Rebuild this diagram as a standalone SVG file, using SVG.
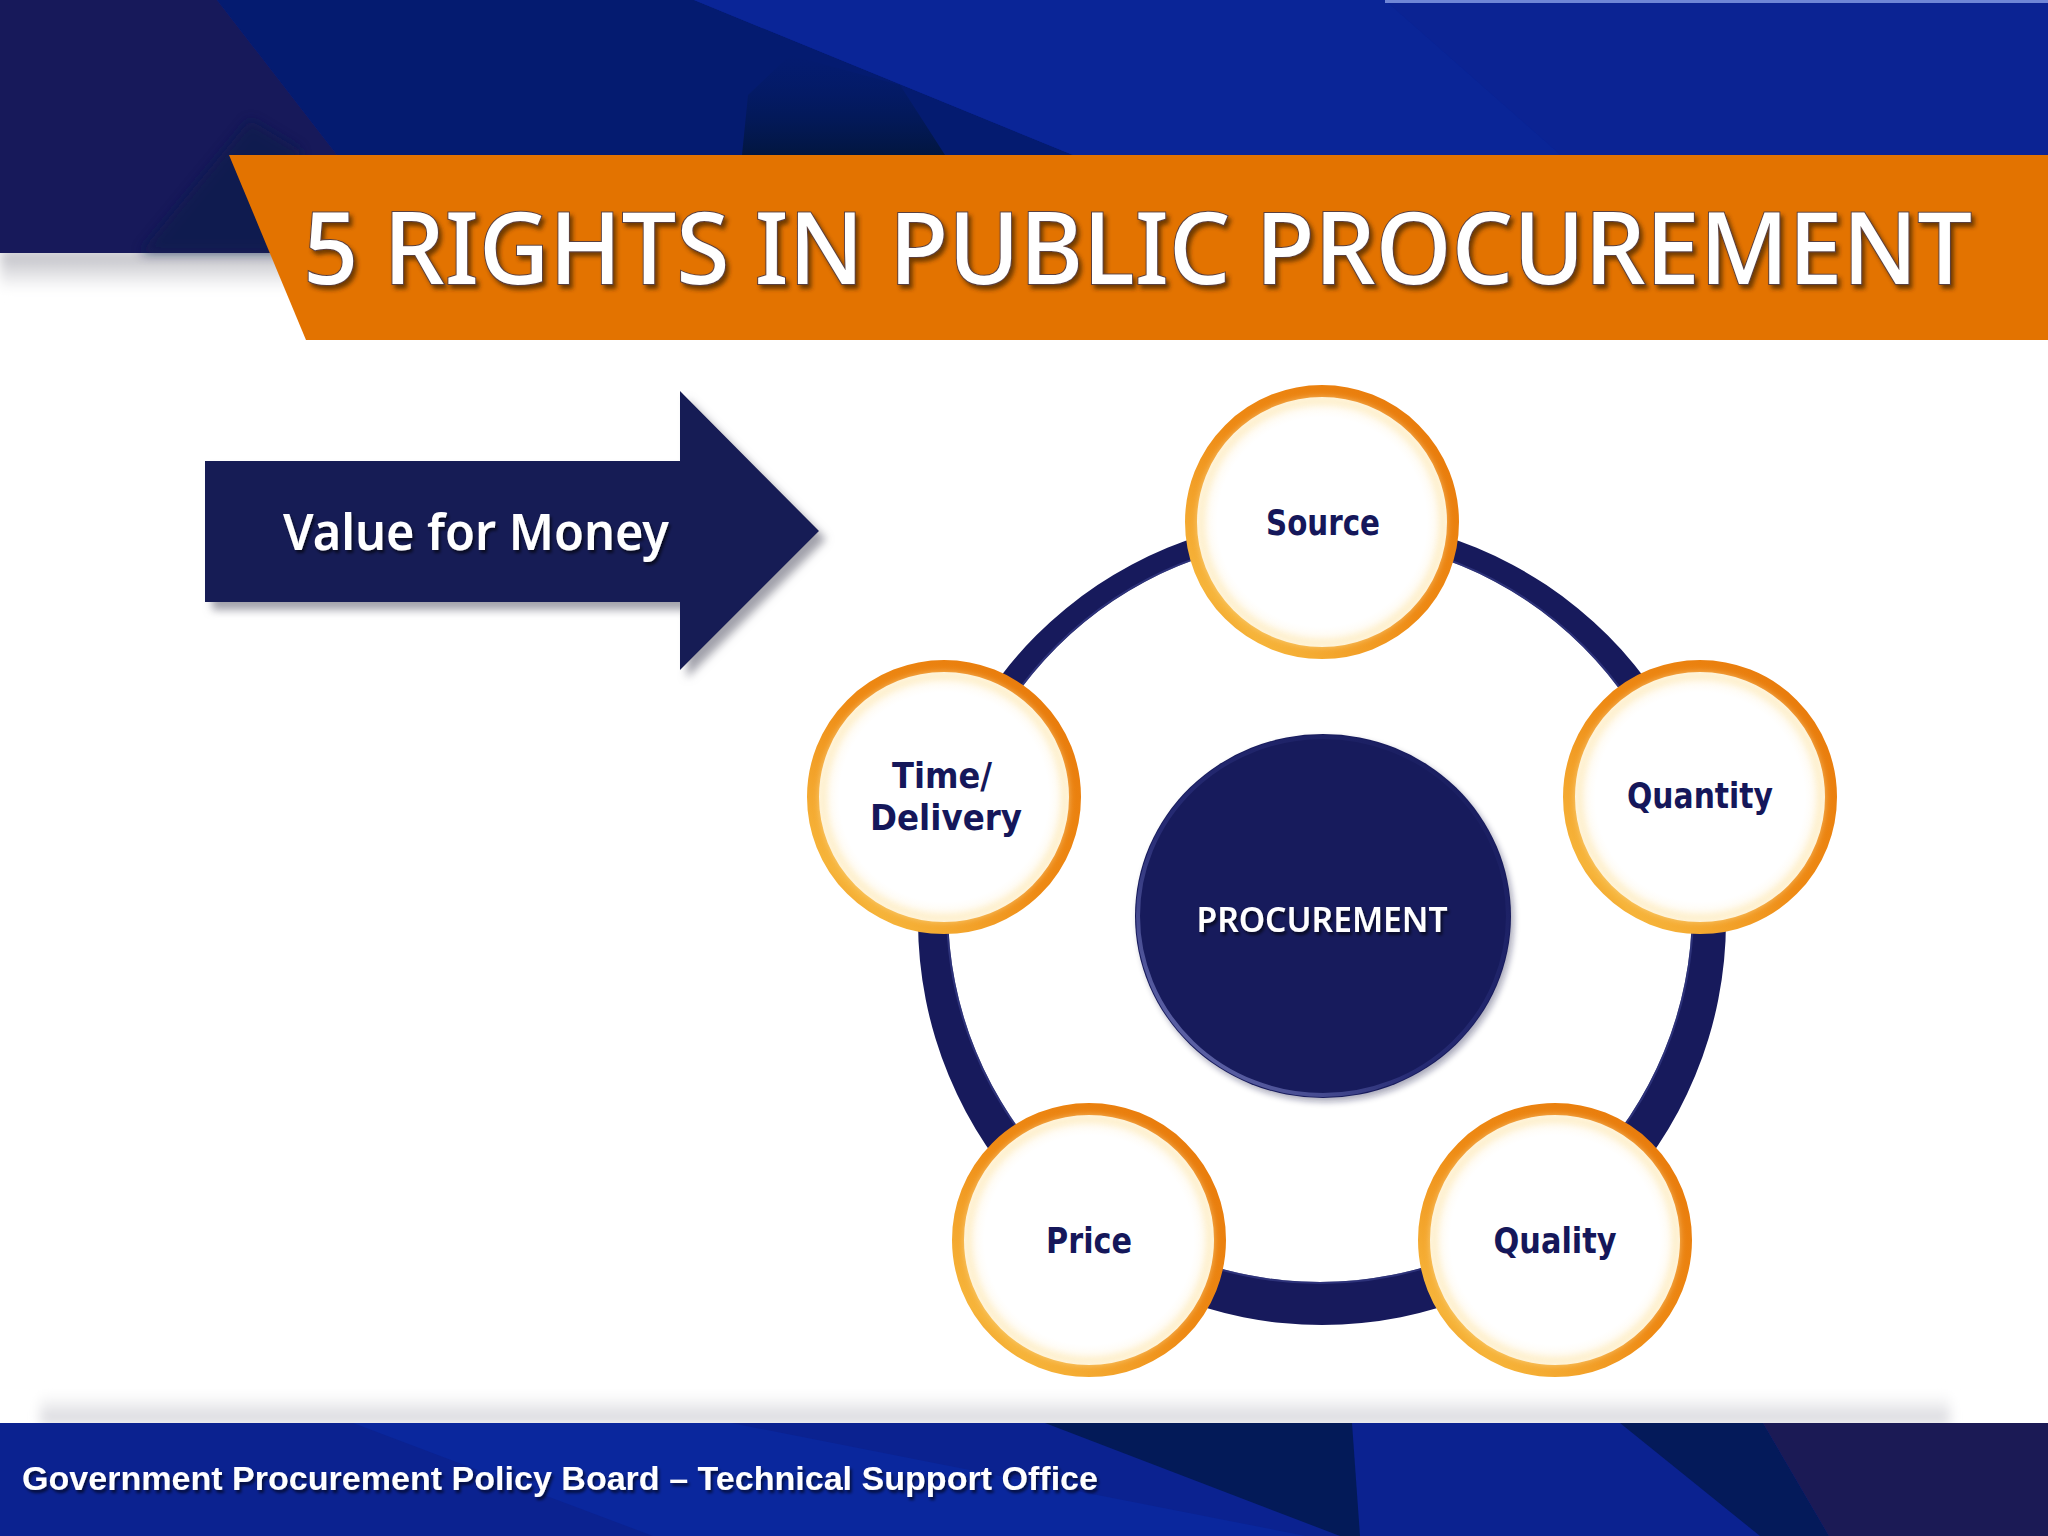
<svg xmlns="http://www.w3.org/2000/svg" width="2048" height="1536" viewBox="0 0 2048 1536">
<defs>
<style>
.nodeText{font-family:"DejaVu Sans","Noto Sans",sans-serif;font-weight:700;font-size:35px;fill:#15175a;text-anchor:middle}
.ringNode{fill:url(#nodeFill);stroke:url(#orangeRing);stroke-width:12}
.glow{fill:none;stroke:#fde7b0;stroke-width:8;opacity:0.55}
</style>
<linearGradient id="orangeRing" x1="1" y1="0" x2="0" y2="1">
<stop offset="0" stop-color="#e7780a"/>
<stop offset="0.5" stop-color="#ee8a14"/>
<stop offset="0.85" stop-color="#f6b43a"/>
<stop offset="1" stop-color="#e98512"/>
</linearGradient>
<radialGradient id="nodeFill" cx="0.5" cy="0.5" r="0.5">
<stop offset="0.8" stop-color="#ffffff"/>
<stop offset="1" stop-color="#fff6e2"/>
</radialGradient>
<linearGradient id="grayShadow" x1="0" y1="0" x2="0" y2="1">
<stop offset="0" stop-color="#b9b9c0"/>
<stop offset="1" stop-color="#ffffff"/>
</linearGradient>
<linearGradient id="footShadow" x1="0" y1="0" x2="0" y2="1">
<stop offset="0" stop-color="#ffffff"/>
<stop offset="1" stop-color="#d2d2d8"/>
</linearGradient>
<linearGradient id="darkShade" x1="0" y1="0" x2="0" y2="1">
<stop offset="0" stop-color="#031a5e" stop-opacity="0"/>
<stop offset="1" stop-color="#021640"/>
</linearGradient>
<linearGradient id="centerRim" x1="1" y1="0" x2="0" y2="1">
<stop offset="0" stop-color="#171b5c"/>
<stop offset="0.6" stop-color="#2a2f7a"/>
<stop offset="1" stop-color="#8f95d6"/>
</linearGradient>
<filter id="blur6" x="-20%" y="-50%" width="140%" height="200%"><feGaussianBlur stdDeviation="6"/></filter>
<filter id="blur3" x="-20%" y="-20%" width="140%" height="140%"><feGaussianBlur stdDeviation="3"/></filter>
<filter id="arrowShadow" x="-10%" y="-10%" width="130%" height="130%"><feDropShadow dx="7" dy="8" stdDeviation="4" flood-color="#7a7a88" flood-opacity="0.7"/></filter>
<filter id="textShadow" x="-10%" y="-40%" width="120%" height="180%"><feDropShadow dx="2" dy="3" stdDeviation="1.5" flood-color="#000000" flood-opacity="0.6"/></filter>
<filter id="titleShadow" x="-10%" y="-40%" width="120%" height="180%"><feDropShadow dx="3" dy="4" stdDeviation="2" flood-color="#4a2600" flood-opacity="0.75"/></filter>
</defs>

<rect width="2048" height="1536" fill="#ffffff"/>

<g id="header-background">
<rect x="0" y="0" width="2048" height="155" fill="#0b2494"/>
<polygon points="217,0 694,0 1073,155 337,155" fill="#041b70"/>
<polygon points="742,155 748,95 790,55 900,85 945,155" fill="url(#darkShade)"/>
<polygon points="694,0 1385,0 1561,155 1073,155" fill="#0a2597"/>
<polygon points="1385,0 2048,0 2048,155 1561,155" fill="#0b2393"/>
<rect x="1385" y="0" width="663" height="3" fill="#6f86d6"/>
<rect x="0" y="250" width="300" height="40" fill="url(#grayShadow)" filter="url(#blur6)"/>
<polygon points="0,0 217,0 337,155 300,253 0,253" fill="#17195a"/>
<polygon points="140,253 290,253 300,150 250,120" fill="#0b1a4c" opacity="0.7" filter="url(#blur6)"/>
</g>

<g id="title-banner">
<polygon points="229,155 2048,155 2048,340 306,340" fill="#e37300"/>
<text x="303" y="284" textLength="1669" lengthAdjust="spacingAndGlyphs" font-family="'Noto Sans','Open Sans','DejaVu Sans',sans-serif" font-size="100" font-weight="500" fill="#ffffff" stroke="#5a4040" stroke-width="2" paint-order="stroke" filter="url(#titleShadow)">5 RIGHTS IN PUBLIC PROCUREMENT</text>
</g>

<g id="value-for-money">
<polygon points="205,461 680,461 680,391 819,531 680,670 680,602 205,602" fill="#171a55" filter="url(#arrowShadow)"/>
<text x="283" y="550" textLength="386" lengthAdjust="spacingAndGlyphs" font-family="'Noto Sans','Open Sans','DejaVu Sans',sans-serif" font-size="50" font-weight="600" fill="#ffffff" filter="url(#textShadow)">Value for Money</text>
</g>

<g id="connectors">
<path d="M918,921 a404,404 0 1,0 808,0 a404,404 0 1,0 -808,0 Z M948,910 a372,372 0 1,0 744,0 a372,372 0 1,0 -744,0 Z" fill="#171a5c" fill-rule="evenodd"/>
<circle cx="1320" cy="910" r="373" fill="none" stroke="#3c428e" stroke-width="2" opacity="0.6"/>
</g>

<g id="node-procurement">
<ellipse cx="1326" cy="920" rx="188" ry="182" fill="#0e1140" opacity="0.35" filter="url(#blur3)"/>
<ellipse cx="1323" cy="916" rx="188" ry="182" fill="#171b5c"/>
<ellipse cx="1323" cy="916" rx="185" ry="179" fill="none" stroke="url(#centerRim)" stroke-width="4" opacity="0.8"/>
<text x="1322" y="932" textLength="251" lengthAdjust="spacingAndGlyphs" font-family="'Noto Sans','Open Sans','DejaVu Sans',sans-serif" font-size="35" font-weight="600" fill="#ffffff" text-anchor="middle" filter="url(#textShadow)">PROCUREMENT</text>
</g>

<g id="node-source">
<circle class="ringNode" cx="1322" cy="522" r="131"/>
<circle class="glow" cx="1322" cy="522" r="121" filter="url(#blur3)"/>
<text class="nodeText" x="1323" y="535" textLength="114" lengthAdjust="spacingAndGlyphs">Source</text>
</g>

<g id="node-quantity">
<circle class="ringNode" cx="1700" cy="797" r="131"/>
<circle class="glow" cx="1700" cy="797" r="121" filter="url(#blur3)"/>
<text class="nodeText" x="1700" y="808" textLength="146" lengthAdjust="spacingAndGlyphs">Quantity</text>
</g>

<g id="node-quality">
<circle class="ringNode" cx="1555" cy="1240" r="131"/>
<circle class="glow" cx="1555" cy="1240" r="121" filter="url(#blur3)"/>
<text class="nodeText" x="1555" y="1253" textLength="123" lengthAdjust="spacingAndGlyphs">Quality</text>
</g>

<g id="node-price">
<circle class="ringNode" cx="1089" cy="1240" r="131"/>
<circle class="glow" cx="1089" cy="1240" r="121" filter="url(#blur3)"/>
<text class="nodeText" x="1089" y="1253" textLength="86" lengthAdjust="spacingAndGlyphs">Price</text>
</g>

<g id="node-time-delivery">
<circle class="ringNode" cx="944" cy="797" r="131"/>
<circle class="glow" cx="944" cy="797" r="121" filter="url(#blur3)"/>
<text class="nodeText"><tspan x="942" y="788" textLength="100" lengthAdjust="spacingAndGlyphs">Time/</tspan><tspan x="946" y="830" textLength="152" lengthAdjust="spacingAndGlyphs">Delivery</tspan></text>
</g>

<g id="footer">
<rect x="40" y="1394" width="1910" height="30" fill="url(#footShadow)" filter="url(#blur6)"/>
<rect x="0" y="1423" width="2048" height="113" fill="#0b2290"/>
<polygon points="353,1423 731,1423 1306,1536 653,1536" fill="#0a279d"/>
<polygon points="1045,1423 1352,1423 1360,1536 1340,1536" fill="#031a58"/>
<polygon points="1620,1423 1763,1423 1829,1536 1760,1536" fill="#041a5a"/>
<polygon points="1763,1423 2048,1423 2048,1536 1829,1536" fill="#1b1a55"/>
<text x="22" y="1490" textLength="1076" lengthAdjust="spacingAndGlyphs" font-family="'Liberation Sans',Arial,sans-serif" font-size="33" font-weight="700" fill="#ffffff" filter="url(#textShadow)">Government Procurement Policy Board – Technical Support Office</text>
</g>
</svg>
